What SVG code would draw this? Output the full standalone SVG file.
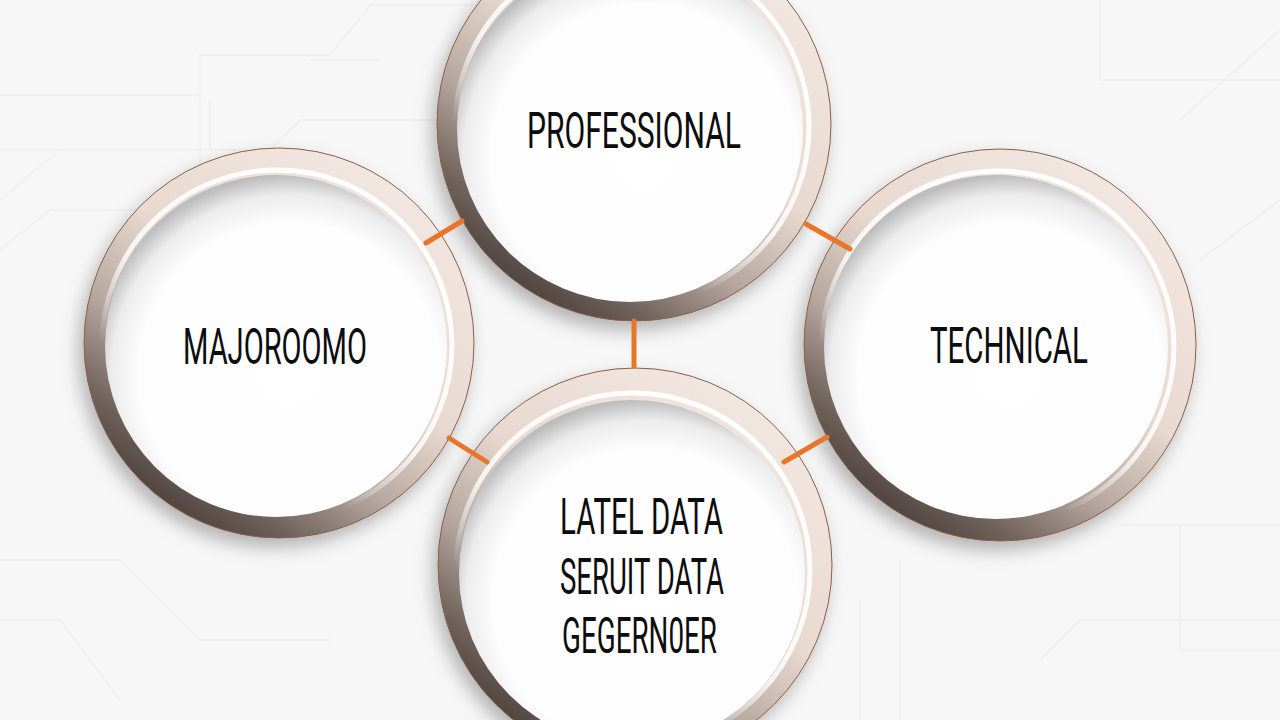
<svg xmlns="http://www.w3.org/2000/svg" width="1280" height="720" viewBox="0 0 1280 720">
  <defs>
    <linearGradient id="ringGrad" x1="0.85" y1="0.05" x2="0.2" y2="0.95">
      <stop offset="0" stop-color="#f3e9e3"/>
      <stop offset="0.45" stop-color="#e8d9d0"/>
      <stop offset="0.68" stop-color="#b4a69e"/>
      <stop offset="0.86" stop-color="#6f625b"/>
      <stop offset="1" stop-color="#463c37"/>
    </linearGradient>
    <linearGradient id="hlGrad" x1="0.8" y1="0.1" x2="0.25" y2="0.9">
      <stop offset="0" stop-color="#ffffff" stop-opacity="1"/>
      <stop offset="0.55" stop-color="#ffffff" stop-opacity="0.8"/>
      <stop offset="0.8" stop-color="#ffffff" stop-opacity="0"/>
    </linearGradient>
    <radialGradient id="discGrad" cx="0.54" cy="0.58" r="0.58">
      <stop offset="0" stop-color="#ffffff"/>
      <stop offset="0.76" stop-color="#fdfdfd"/>
      <stop offset="0.9" stop-color="#ececec"/>
      <stop offset="1" stop-color="#bdbdbd"/>
    </radialGradient>
    <filter id="drop" x="-20%" y="-20%" width="140%" height="140%">
      <feDropShadow dx="-5" dy="9" stdDeviation="9" flood-color="#000" flood-opacity="0.28"/>
    </filter>
    <style>
      .ring { fill: url(#ringGrad); stroke: #8a5e44; stroke-width: 1; filter: url(#drop); }
      .hl { fill: none; stroke: url(#hlGrad); stroke-width: 5; }
      .disc { fill: url(#discGrad); }
      .lbl { font-family: Roboto, "DejaVu Sans", sans-serif; font-size: 50px; font-weight: 400; fill: #0d0d0d; }
      .bg { stroke: #eeeeee; stroke-width: 1.5; fill: none; }
      .conn { stroke: #e8762a; stroke-width: 5; stroke-linecap: round; }
    </style>
  </defs>
  <rect width="1280" height="720" fill="#f7f7f7"/>
  <g id="background">
    <path class="bg" d="M0 95 H200 V55 H330 L370 5 H560"/>
    <path class="bg" d="M0 150 H270 L300 120 H440"/>
    <path class="bg" d="M0 200 L60 150"/>
    <path class="bg" d="M0 250 L50 210 H200 V100"/>
    <path class="bg" d="M210 100 V150 M310 60 H380"/>
    <path class="bg" d="M1100 0 V80 H1280"/>
    <path class="bg" d="M1180 120 L1280 30"/>
    <path class="bg" d="M1200 260 L1280 200"/>
    <path class="bg" d="M1120 525 H1280 M1180 525 V650 H1280"/>
    <path class="bg" d="M1040 660 L1080 620 H1280"/>
    <path class="bg" d="M0 560 H120 L200 640 H330 M0 620 H60 L120 700"/>
    <path class="bg" d="M860 600 V720 M900 560 V720"/>
  </g>
  <g id="node-majoroomo">
    <circle class="ring" cx="279" cy="343" r="195"/>
    <circle class="hl" cx="277" cy="345" r="175"/>
    <circle class="disc" cx="276" cy="346" r="171"/>
    <text class="lbl" x="183" y="364" textLength="184" lengthAdjust="spacingAndGlyphs">MAJOROOMO</text>
  </g>
  <g id="node-technical">
    <circle class="ring" cx="1000" cy="345" r="196"/>
    <circle class="hl" cx="998" cy="347" r="176"/>
    <circle class="disc" cx="996" cy="347" r="172"/>
    <text class="lbl" x="930" y="363" textLength="158" lengthAdjust="spacingAndGlyphs">TECHNICAL</text>
  </g>
  <g id="node-professional">
    <circle class="ring" cx="634" cy="124" r="197"/>
    <circle class="hl" cx="632" cy="127" r="177"/>
    <circle class="disc" cx="630" cy="129" r="173"/>
    <text class="lbl" x="527" y="148" textLength="214" lengthAdjust="spacingAndGlyphs">PROFESSIONAL</text>
  </g>
  <g id="node-data">
    <circle class="ring" cx="635" cy="565" r="197"/>
    <circle class="hl" cx="633" cy="570" r="177"/>
    <circle class="disc" cx="632" cy="573" r="173"/>
    <text class="lbl" x="560" y="534" textLength="163" lengthAdjust="spacingAndGlyphs">LATEL DATA</text>
    <text class="lbl" x="560" y="594" textLength="164" lengthAdjust="spacingAndGlyphs">SERUIT DATA</text>
    <text class="lbl" x="562" y="653" textLength="155" lengthAdjust="spacingAndGlyphs">GEGERN0ER</text>
  </g>
  <g id="connectors">
    <line class="conn" x1="426" y1="243" x2="462" y2="221"/>
    <line class="conn" x1="806" y1="224" x2="850" y2="249"/>
    <line class="conn" x1="634" y1="321" x2="634" y2="366"/>
    <line class="conn" x1="449" y1="438" x2="487" y2="462"/>
    <line class="conn" x1="784" y1="462" x2="827" y2="437"/>
  </g>
</svg>
